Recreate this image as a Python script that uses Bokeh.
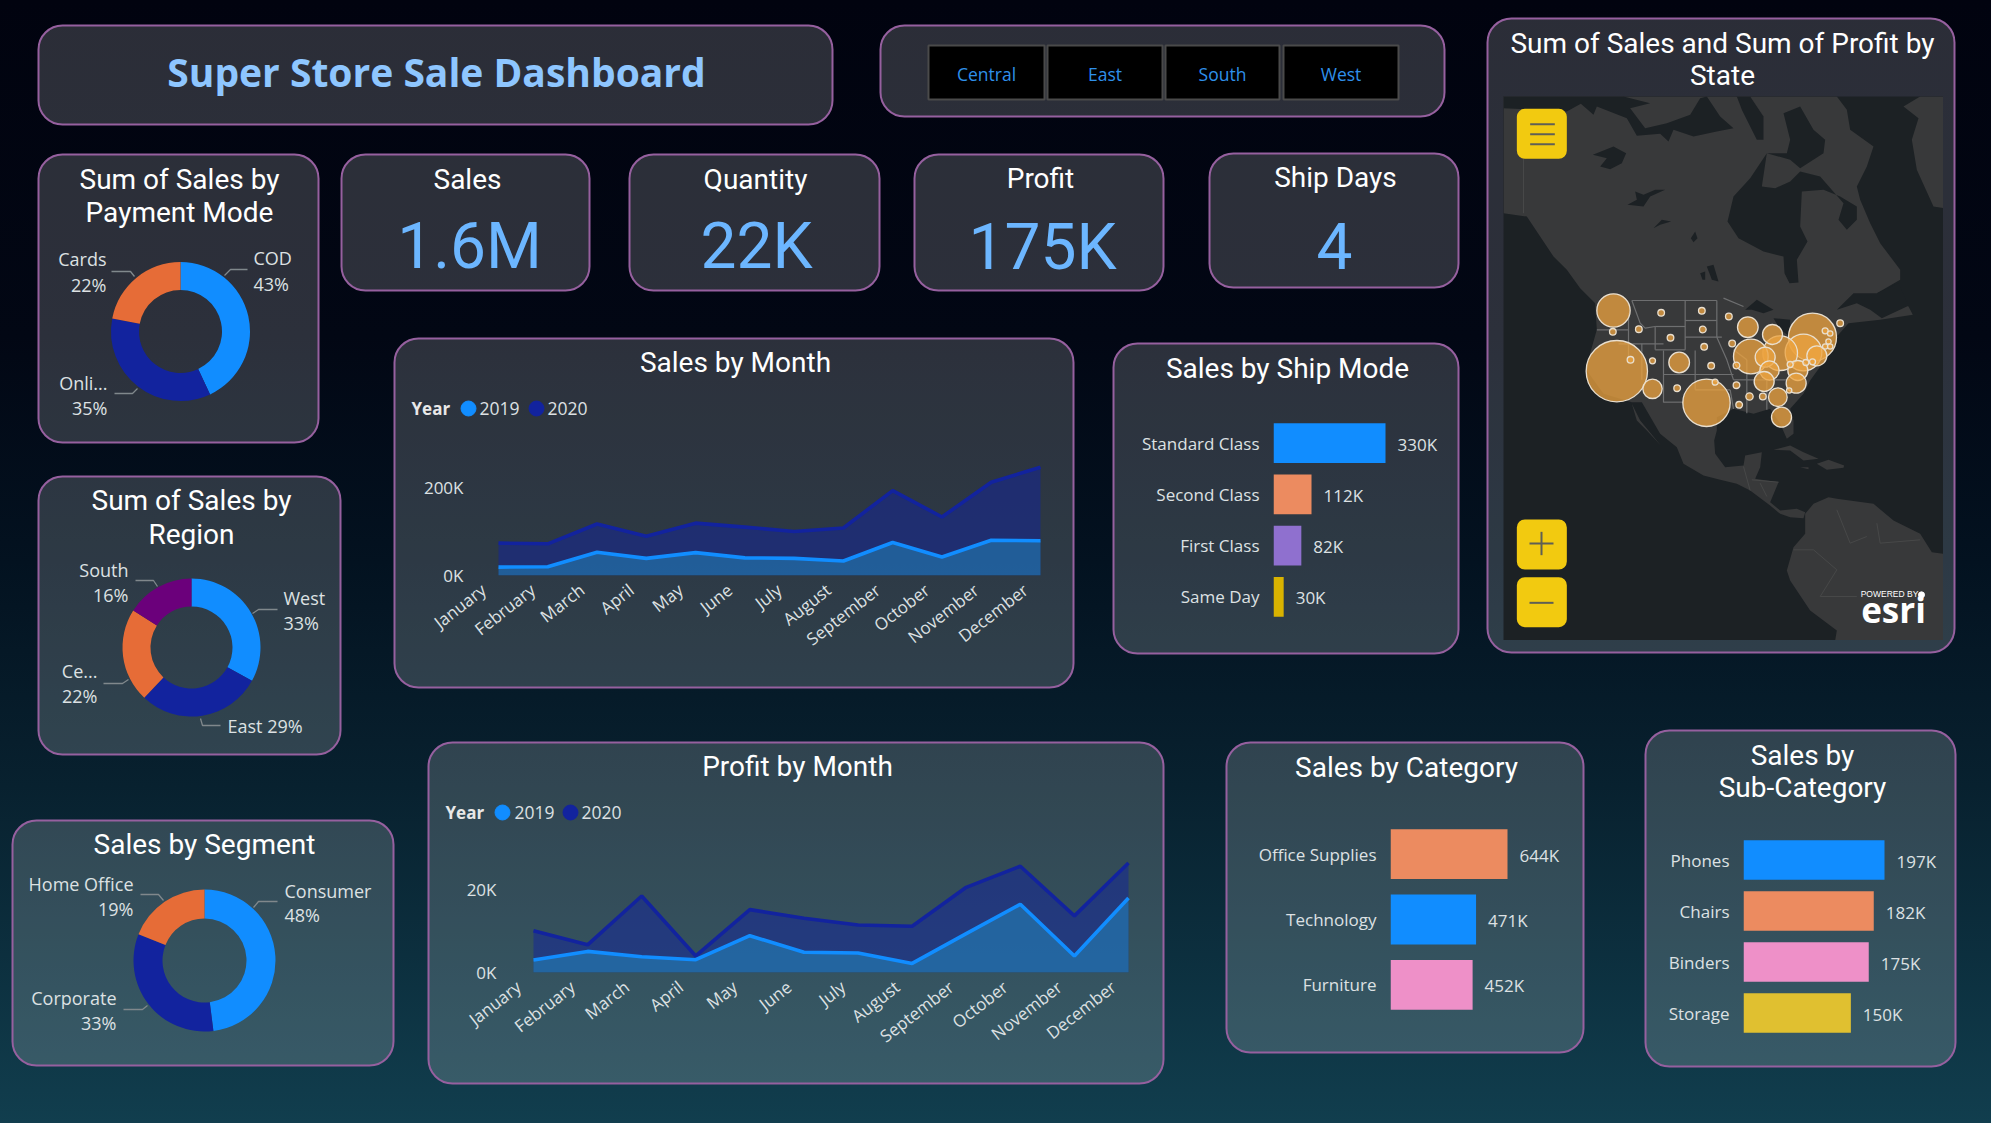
from math import pi
from bokeh.plotting import figure
from bokeh.layouts import column
from bokeh.models import Range1d, FactorRange, FixedTicker
from bokeh.core.properties import value
from bokeh.embed import file_html
from bokeh.resources import INLINE

# ---------- data ----------
MONTHS = ["January","February","March","April","May","June","July","August","September","October","November","December"]
SALES_2019 = [19,20,53,39,52,40,39,33,75,42,80,79]
SALES_2020 = [73.5,72,117,89,119,110,100,108,193,133,212,246]
PROFIT_2019 = [3.0,5.1,3.8,3.1,8.9,4.9,4.7,2.2,9.4,16.5,4.0,18.0]
PROFIT_2020 = [10.1,6.7,18.5,4.0,15.2,13.1,11.5,11.2,20.6,25.7,13.7,26.5]

PAYMENT_LABELS = ["COD","Online","Cards"]
PAYMENT_PCT = [43,35,22]
REGION_LABELS = ["West","East","Central","South"]
REGION_PCT = [33,29,22,16]
SEGMENT_LABELS = ["Consumer","Corporate","Home Office"]
SEGMENT_PCT = [48,33,19]

SHIP_MODES = ["Standard Class","Second Class","First Class","Same Day"]
SHIP_SALES = [330,112,82,30]
CATEGORIES = ["Office Supplies","Technology","Furniture"]
CATEGORY_SALES = [644,471,452]
SUBCATS = ["Phones","Chairs","Binders","Storage"]
SUBCAT_SALES = [197,182,175,150]

KPI_NAMES = ["Sales","Quantity","Profit","Ship Days"]
KPI_VALUES = ["1.6M","22K","175K","4"]
REGION_BUTTONS = ["Central","East","South","West"]

# map shapes in map-local units
NORTH_AMERICA = [(0,0),(1000,0),(1030,40),(1040,100),(1110,150),(1090,210),(1060,270),(1070,310),(1100,380),(1130,440),(1190,520),(1190,550),(1120,590),(1215,630),(1228,655),(1130,670),(1035,680),(1000,720),(960,770),(985,762),(920,852),(900,892),(860,937),(870,972),(870,1012),(850,1027),(830,982),(800,937),(750,952),(690,937),(640,962),(640,1002),(632,1032),(635,1072),(665,1112),(720,1107),(725,1077),(775,1067),(770,1112),(755,1147),(825,1157),(800,1217),(830,1242),(880,1237),(905,1247),(900,1265),(860,1262),(830,1252),(800,1227),(740,1182),(700,1162),(650,1150),(600,1137),(540,1102),(520,1052),(470,1012),(415,917),(385,917),(300,892),(250,822),(260,770),(280,700),(275,620),(230,575),(190,520),(150,480),(110,420),(70,360),(0,350)]
BAJA = [(385,922),(410,972),(472,1047),(430,1002),(400,972)]
SOUTH_AMERICA = [(905,1252),(930,1222),(975,1202),(1000,1207),(1110,1222),(1170,1272),(1250,1312),(1285,1367),(1320,1372),(1320,1632),(995,1632),(1000,1602),(920,1542),(860,1452),(850,1422),(870,1352),(905,1312)]
GREENLAND = [(1250,0),(1200,30),(1245,65),(1225,130),(1240,220),(1290,330),(1320,335),(1320,0)]
CUBA = [(810,1060),(860,1047),(900,1067),(945,1087),(900,1092),(860,1062)]
HISPANIOLA = [(940,1102),(975,1090),(1022,1107),(1020,1114),(970,1120)]
JAMAICA = [(890,1112),(915,1112),(915,1118)]
BEAUFORT = [(0,0),(360,0),(440,20),(380,35),(425,95),(490,80),(560,55),(590,5),(610,0),(650,60),(690,95),(640,105),(570,120),(510,100),(495,135),(470,112),(400,118),(370,65),(280,30),(270,55),(232,22),(190,45),(0,35)]
PARRY = [(700,0),(740,0),(780,60),(780,130),(760,130),(715,40)]
FOXE = [(790,170),(860,190),(890,215),(960,170),(965,130),(930,100),(890,30),(840,50),(860,130),(850,170)]
HUDSON = [(790,170),(740,245),(690,300),(672,375),(705,425),(780,465),(840,480),(843,530),(858,560),(885,558),(880,490),(912,435),(890,390),(895,285),(960,280),(1010,300),(1060,330),(1060,370),(1030,400),(1005,370),(1020,320),(950,240),(890,225),(860,255),(815,275),(775,270)]
BEAR_LAKE = [(268,175),(330,150),(368,170),(355,200),(320,218),(290,210),(310,185)]
SLAVE_LAKE = [(372,325),(400,310),(395,285),(420,295),(455,280),(485,280),(440,300),(420,330)]
ATHABASCA = [(450,395),(475,370),(503,375),(470,385)]
REINDEER = [(562,425),(575,405),(582,425),(570,437)]
WINNIPEG = [(610,510),(630,505),(645,555),(625,550)]
MANITOBA = [(590,530),(605,525),(605,550),(597,550)]
SUPERIOR = [(725,640),(760,610),(810,640),(780,650),(745,640)]
HURON = [(810,665),(860,670),(860,720),(830,700)]
GULF_STL = [(1185,560),(1120,590),(1050,590),(1000,640),(1060,620),(1100,640),(1135,665),(1215,628)]
WATER = [BEAUFORT,PARRY,FOXE,HUDSON,BEAR_LAKE,SLAVE_LAKE,ATHABASCA,REINDEER,WINNIPEG,MANITOBA,SUPERIOR,HURON,GULF_STL]
LAND = [NORTH_AMERICA,BAJA,SOUTH_AMERICA,GREENLAND,CUBA,HISPANIOLA,JAMAICA]
STATE_LINES = [[(385,612),(640,612)],[(545,612),(545,760)],[(455,690),(545,690)],[(455,690),(455,760)],[(455,760),(545,760)],
 [(545,672),(640,672)],[(545,722),(655,722)],[(640,612),(640,722)],[(660,605),(720,630)],[(415,742),(415,850)],
 [(480,762),(480,918)],[(575,762),(575,880)],[(480,834),(690,834)],[(345,742),(480,742)],[(385,612),(410,680),(425,695),(455,690)],
 [(280,700),(375,700)],[(375,650),(375,800)],[(640,722),(670,790),(690,850)],[(575,880),(680,880)],[(730,790),(730,950)],
 [(790,850),(790,940)],[(480,917),(540,917)],[(690,850),(730,850)],[(690,760),(730,790)],[(730,850),(860,850)],[(680,880),(690,937)]]
FAINT_LINES = [[(60,180),(60,350)],[(720,1110),(740,1182)],[(745,1150),(825,1157)],[(770,1160),(790,1200)],[(1000,1240),(1040,1340),(1090,1320)],[(1120,1280),(1130,1340),(1250,1330)],[(870,1360),(930,1360),(1000,1420),(950,1500),(1060,1500)]]
# bubbles: x, y, radius
BUBBLE_X = [340,927,900,609,830,742,330,940,733,807,785,798,883,782,878,527,447,834,823,381,447,635,521,623,699,699,707,738,778,328,406,473,501,595,598,602,676,686,860,907,927,857,965,980,975,965,980,1010]
BUBBLE_Y = [824,722,768,919,770,780,642,778,692,714,782,822,822,855,860,798,877,962,902,790,793,857,875,808,866,807,925,900,900,706,698,649,724,643,699,751,660,741,804,798,796,882,703,711,735,750,750,680]
BUBBLE_R = [92,72,55,71,52,52,50,30,31,30,30,29,30,30,30,31,29,30,28,10,9,9,10,10,10,10,10,11,10,10,10,10,10,10,10,10,10,10,9,9,9,8,9,8,8,8,8,10]

# ---------- style ----------
BLUE, NAVY, ORANGE, PURPLE = "#118DFF", "#12239E", "#E66C37", "#6B007B"
TITLE_FONT, LABEL_FONT = "Roboto", "Open Sans"
LABEL_COLOR = "#dde1e3"
W, H = 1991, 1123

def blank(width, height, xr, yr):
    f = figure(width=width, height=height, x_range=xr, y_range=yr, output_backend="svg",
               toolbar_location=None, background_fill_alpha=0, border_fill_alpha=0,
               outline_line_color=None, x_axis_location=None, y_axis_location=None,
               min_border_left=0, min_border_right=0, min_border_top=0, min_border_bottom=0)
    f.grid.visible = False
    f.frame_align = False
    return f

def place(f, left, top):
    f.styles = {"position": "absolute", "left": f"{left}px", "top": f"{top}px"}
    return f

bg = blank(W, H, Range1d(0, W), Range1d(H, 0))

def txt(f, x, y, s, size, color="#ffffff", font=TITLE_FONT, align="center", style="normal"):
    f.text(x=[x], y=[y], text=[s], text_font=value(font), text_font_size=f"{size}px", text_color=color,
           text_align=align, text_baseline="middle", text_font_style=style)

# panels: left, top, right, bottom
PANELS = [(38,25,832,124),(880,25,1444,116),(1487,18,1954,652),(38,154,318,442),(341,154,589,290),(629,154,879,290),
          (914,154,1163,290),(1209,153,1458,287),(38,476,340,754),(394,338,1073,687),(1113,343,1458,653),
          (12,820,393,1065),(428,742,1163,1083),(1226,742,1583,1052),(1645,730,1955,1066)]
bg.quad(left=[a[0] for a in PANELS], top=[a[1] for a in PANELS], right=[a[2] for a in PANELS], bottom=[a[3] for a in PANELS],
        fill_color="#ffffff", fill_alpha=0.17, line_color="#96609f", line_width=2, border_radius=24)

# headings
txt(bg, 436, 71, "Super Store Sale Dashboard", 39, "#8ec6ff", "Open Sans", style="bold")
for x, y, s in [(179,179,"Sum of Sales by"),(179,212,"Payment Mode"),(191,500,"Sum of Sales by"),(191,534,"Region"),
                (204,844,"Sales by Segment"),(735,362,"Sales by Month"),(797,766,"Profit by Month"),(1287,368,"Sales by Ship Mode"),
                (1406,767,"Sales by Category"),(1802,755,"Sales by"),(1802,787,"Sub-Category"),
                (1722,43,"Sum of Sales and Sum of Profit by"),(1722,75,"State")]:
    txt(bg, x, y, s, 28)

# KPI cards
for x, y, s in zip([467,755,1040,1335],[179,179,178,177],KPI_NAMES):
    txt(bg, x, y, s, 28)
for x, y, s in zip([469,756,1042,1334],[246,246,247,245],KPI_VALUES):
    txt(bg, x, y, s, 64, "#6cb6ff")

# slicer
BX0 = [928,1047,1165,1283]; BX1 = [1044,1162,1279,1398]
bg.quad(left=BX0, right=BX1, top=[45]*4, bottom=[99]*4, fill_color="#000000", line_color="#4a4a4a", line_width=2)
for a, b, s in zip(BX0, BX1, REGION_BUTTONS):
    txt(bg, (a+b)/2, 73, s, 17.5, "#2f90ea", LABEL_FONT)

# legends
for yr_y, xs in [(408,(411,468,479,536,547)),(812,(445,502,514,570,581))]:
    txt(bg, xs[0], yr_y, "Year", 17, "#e8e8e8", LABEL_FONT, "left", "bold")
    bg.scatter(x=[xs[1],xs[3]], y=[yr_y]*2, size=15, color=[BLUE,NAVY])
    txt(bg, xs[2], yr_y, "2019", 17.5, LABEL_COLOR, LABEL_FONT, "left")
    txt(bg, xs[4], yr_y, "2020", 17.5, LABEL_COLOR, LABEL_FONT, "left")

# donuts
def donut(cx, cy, r0, r1, pct, colors):
    cum, st, en = 0, [], []
    for v in pct:
        st.append(pi/2 - 2*pi*cum/100); cum += v; en.append(pi/2 - 2*pi*cum/100)
    bg.annular_wedge(x=[cx]*len(pct), y=[cy]*len(pct), inner_radius=r0, outer_radius=r1, start_angle=st, end_angle=en,
                     direction="clock", fill_color=colors, line_color=None)

donut(180,331,41.5,69.5,PAYMENT_PCT,[BLUE,NAVY,ORANGE])
donut(191,647,41,69,REGION_PCT,[BLUE,NAVY,ORANGE,PURPLE])
donut(204,960,42,71,SEGMENT_PCT,[BLUE,NAVY,ORANGE])

LEADERS = [[(111,271),(130,271),(134,276)],[(247,269),(230,269),(224,275)],[(114,393),(132,393),(137,388)],
           [(135,580),(153,580),(157,586)],[(277,609),(258,609),(252,613)],[(103,683),(122,683),(128,679)],[(220,725),(202,725),(200,718)],
           [(140,894),(158,894),(163,900)],[(277,901),(258,901),(253,907)],[(123,1009),(142,1009),(147,1005)]]
bg.multi_line(xs=[[q[0] for q in l] for l in LEADERS], ys=[[q[1] for q in l] for l in LEADERS], line_color="#80888c", line_width=1.3)

def pct(v): return f"{v}%"
LABELS = [(106,258,"Cards","right"),(106,284,pct(PAYMENT_PCT[2]),"right"),(253,257,"COD","left"),(253,283,pct(PAYMENT_PCT[0]),"left"),
          (107,382,"Onli...","right"),(107,407,pct(PAYMENT_PCT[1]),"right"),
          (128,569,"South","right"),(128,594,pct(REGION_PCT[3]),"right"),(283,597,"West","left"),(283,622,pct(REGION_PCT[0]),"left"),
          (97,670,"Ce...","right"),(97,695,pct(REGION_PCT[2]),"right"),(227,725,f"East {REGION_PCT[1]}%","left"),
          (133,883,"Home Office","right"),(133,908,pct(SEGMENT_PCT[2]),"right"),(284,890,"Consumer","left"),(284,914,pct(SEGMENT_PCT[0]),"left"),
          (116,997,"Corporate","right"),(116,1022,pct(SEGMENT_PCT[1]),"right")]
for x, y, s, a in LABELS:
    txt(bg, x, y, s, 18, LABEL_COLOR, LABEL_FONT, a)

# map
mp = blank(440, 544, Range1d(0,1320), Range1d(1632,0))
mp.background_fill_color = "#1c2124"; mp.background_fill_alpha = 1
mp.patches(xs=[[q[0] for q in s] for s in LAND], ys=[[q[1] for q in s] for s in LAND], fill_color="#38393a", line_color=None)
mp.patches(xs=[[q[0] for q in s] for s in WATER], ys=[[q[1] for q in s] for s in WATER], fill_color="#1c2124", line_color=None)
mp.multi_line(xs=[[q[0] for q in l] for l in FAINT_LINES], ys=[[q[1] for q in l] for l in FAINT_LINES], line_color="#474848", line_width=1)
mp.multi_line(xs=[[q[0] for q in l] for l in STATE_LINES], ys=[[q[1] for q in l] for l in STATE_LINES], line_color="#6e6f70", line_width=1.2)
mp.circle(x=BUBBLE_X, y=BUBBLE_Y, radius=BUBBLE_R, fill_color="#eda33f", fill_alpha=0.76, line_color="#e9dfcf", line_width=1.3)
BTN_T = [37,1269,1442]
mp.quad(left=[40]*3, right=[190]*3, top=BTN_T, bottom=[t+150 for t in BTN_T], fill_color="#f2ca10", line_color=None, border_radius=8)
mp.multi_line(xs=[[80,154],[80,154],[80,154],[78,150],[114,114],[78,150]],
              ys=[[83,83],[113,113],[143,143],[1341,1341],[1306,1376],[1519,1519]], line_color="#5f5f55", line_width=2)
mp.text(x=[1158], y=[1493], text=["POWERED BY"], text_font=value("Liberation Sans"), text_font_size="8.5px", text_color="#ffffff", text_align="center", text_baseline="middle")
mp.scatter(x=[1254], y=[1495], size=6, color="#ffffff")
mp.text(x=[1170], y=[1539], text=["esri"], text_font=value("Open Sans"), text_font_style="bold", text_font_size="35px", text_color="#ffffff", text_align="center", text_baseline="middle")

ML = 160  # left border of every chart figure
# month charts
def month_chart(left_px, right_px, zero_px, top_px, y_per_px, y_ticks, y_labels, a, b, y_standoff):
    pad, shift = 20, 15
    step = (right_px - left_px) / 11
    fw = right_px - left_px + 2*pad
    fh = zero_px - top_px
    f = figure(width=fw+ML, height=fh+110, x_range=Range1d(-pad/step, 11+pad/step), y_range=Range1d(0, fh*y_per_px),
               output_backend="svg", toolbar_location=None, background_fill_alpha=0, border_fill_alpha=0, outline_line_color=None,
               min_border_left=ML, min_border_right=0, min_border_top=0, min_border_bottom=110)
    f.frame_align = False
    f.grid.visible = False
    xs = list(range(12))
    f.varea(x=xs, y1=[0]*12, y2=b, fill_color=NAVY, fill_alpha=0.5)
    f.varea(x=xs, y1=[0]*12, y2=a, fill_color="#23A0D0", fill_alpha=0.42)
    f.line(x=xs, y=b, line_color=NAVY, line_width=3.6)
    f.line(x=xs, y=a, line_color=BLUE, line_width=3.6)
    ax, ay = f.xaxis[0], f.yaxis[0]
    ticks = [i - shift/step for i in xs]
    ax.ticker = FixedTicker(ticks=ticks); ax.major_label_overrides = dict(zip(ticks, MONTHS))
    ax.major_label_orientation = 0.66
    ay.ticker = FixedTicker(ticks=y_ticks); ay.major_label_overrides = dict(zip(y_ticks, y_labels))
    for x in (ax, ay):
        x.axis_line_color = None; x.major_tick_line_color = None; x.minor_tick_line_color = None
        x.major_label_text_font = LABEL_FONT; x.major_label_text_font_size = "17px"; x.major_label_text_color = LABEL_COLOR
    ax.major_label_standoff = 6; ay.major_label_standoff = y_standoff
    return place(f, left_px - pad - ML, top_px)

sales_fig = month_chart(498, 1040, 575, 440, 200/88, [0,200], ["0K","200K"], SALES_2019, SALES_2020, 9)
profit_fig = month_chart(533, 1128, 972, 845, 20/82.7, [0,20], ["0K","20K"], PROFIT_2019, PROFIT_2020, 11)

# bar charts
def bar_chart(cats, vals, colors, bar_left, bar_first_c, pitch, bar_h, px_per, fw, val_gap):
    n = len(cats)
    f = figure(width=ML+fw, height=int(round(n*pitch)), x_range=Range1d(0, fw/px_per), y_range=FactorRange(factors=cats[::-1]),
               output_backend="svg", toolbar_location=None, background_fill_alpha=0, border_fill_alpha=0, outline_line_color=None,
               x_axis_location=None, min_border_left=ML, min_border_right=0, min_border_top=0, min_border_bottom=0)
    f.frame_align = False
    f.grid.visible = False
    f.hbar(y=cats, right=vals, left=0, height=bar_h/pitch, fill_color=colors, line_color=None)
    f.text(x=vals, y=cats, text=[f"{v}K" for v in vals], x_offset=val_gap, y_offset=1, text_font=value(LABEL_FONT), text_font_size="17px",
           text_color=LABEL_COLOR, text_align="left", text_baseline="middle")
    a = f.yaxis[0]
    a.axis_line_color = None; a.major_tick_line_color = None; a.minor_tick_line_color = None
    a.major_label_text_font = LABEL_FONT; a.major_label_text_font_size = "17px"; a.major_label_text_color = LABEL_COLOR
    a.major_label_standoff = 8
    return place(f, bar_left - ML, int(round(bar_first_c - pitch/2)))

SEC, FIR = "#EC8B60", "#8F70CF"
ship_fig = bar_chart(SHIP_MODES, SHIP_SALES, [BLUE,SEC,FIR,"#D9B300"], 1273, 443, 51.3, 40, 112/330, 175, 12)
cat_fig = bar_chart(CATEGORIES, CATEGORY_SALES, [SEC,BLUE,"#EE90C8"], 1390, 853.5, 65.5, 50, 117/644, 185, 12)
sub_fig = bar_chart(SUBCATS, SUBCAT_SALES, [BLUE,SEC,"#EE90C8","#E0C030"], 1743, 860, 51, 39.5, 141/197, 205, 12)

root = column(bg, mp, sales_fig, profit_fig, ship_fig, cat_fig, sub_fig, width=W, height=H, sizing_mode="fixed",
              styles={"position":"absolute","left":"0px","top":"0px",
                      "background":"linear-gradient(180deg,#01030f 0%,#020714 30%,#031220 50%,#08212f 70%,#0c2f3e 85%,#113e4e 100%)"})
place(bg, 0, 0); place(mp, 1503, 96)

open("out.html", "w").write(file_html(root, INLINE))
